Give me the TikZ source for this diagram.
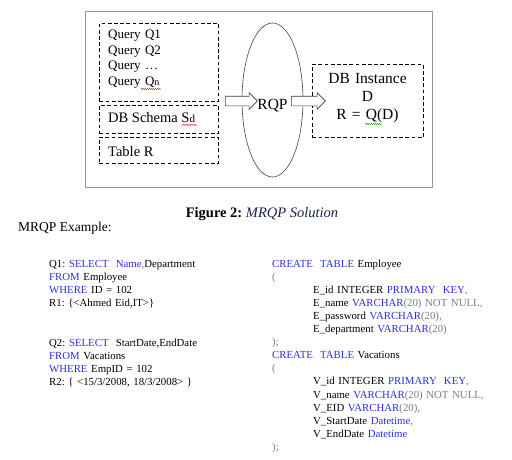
\documentclass[tikz,border=0pt]{standalone}
\usepackage{fontspec}
\setmainfont{Liberation Serif}
\usetikzlibrary{shapes.geometric,shapes.arrows,decorations.pathmorphing}
\definecolor{sqlblue}{RGB}{45,45,235}
\definecolor{sqlgray}{RGB}{125,125,125}
\definecolor{framegray}{RGB}{150,150,150}
\definecolor{captionnavy}{RGB}{25,35,75}
\newcommand{\sqlkw}[1]{\textcolor{sqlblue}{#1}}
\newcommand{\sqlgr}[1]{\textcolor{sqlgray}{#1}}
\newcommand{\sqlind}{\hspace*{41pt}}
\frenchspacing

\begin{document}
\begin{tikzpicture}[x=1pt,y=-1pt,
    dashbox/.style={draw, dash pattern=on 3.8pt off 2.4pt, line width=0.9pt, anchor=north west, inner sep=0pt},
    blockarrow/.style={single arrow, draw=black!75, fill=white, line width=0.6pt, minimum width=16pt,
      text height=4.5pt, text depth=4.5pt, single arrow head extend=3.5pt, single arrow head indent=0pt, inner sep=0pt},
    sqltext/.style={anchor=base west, inner sep=0pt, text width=230pt, align=left,
      font=\fontsize{10.8}{13.1}\selectfont}]
  \useasboundingbox (0,0) rectangle (512,459);

  % frame of the figure
  \draw[framegray, line width=0.8pt] (85,11) rectangle (432,187);

  % inputs
  \node[dashbox, minimum width=119pt, minimum height=78pt] (queries) at (99,23) {};
  \node[dashbox, minimum width=119pt, minimum height=28pt] (schema) at (99,105) {};
  \node[dashbox, minimum width=119pt, minimum height=26pt] (table) at (99,137) {};
  \node[anchor=base west, inner sep=0pt, text width=105pt, align=left,
    font=\fontsize{13}{15.5}\selectfont] (querylist) at (108,38.5)
    {Query Q1\\Query Q2\\Query \dots\\Query Q{\fontsize{10}{10}\selectfont n}};
  \node[anchor=base west, inner sep=0pt, font=\fontsize{14.5}{16}\selectfont] (schematext) at (108,122)
    {DB Schema S{\fontsize{11}{11}\selectfont d}};
  \node[anchor=base west, inner sep=0pt, font=\fontsize{14.5}{16}\selectfont] (tabletext) at (108,156) {Table R};

  % processor
  \node[ellipse, draw=black!75, line width=0.6pt, minimum width=61pt, minimum height=154pt, inner sep=0pt]
    (rqp) at (272.5,100) {};
  \node[inner sep=0pt, font=\fontsize{15.5}{17}\selectfont] (rqptext) at (272.5,105.5) {RQP};

  % output
  \node[dashbox, minimum width=111pt, minimum height=73pt] (instance) at (312,64) {};
  \node[anchor=base, inner sep=0pt, text width=105pt, align=center,
    font=\fontsize{15.5}{18}\selectfont] (instancetext) at (367.5,83.3)
    {DB Instance\\D\\R = Q(D)};

  \node[blockarrow, minimum height=32pt] (arrowin) at (239,101) {};
  \node[blockarrow, minimum height=34pt] (arrowout) at (306,101) {};

  % spelling marks
  \draw[red, line width=0.4pt, decorate, decoration={snake, amplitude=0.6pt, segment length=2pt}]
    (141,89) -- (160,89) (182,125.5) -- (197,125.5);
  \draw[green!60!black, line width=0.4pt, decorate, decoration={snake, amplitude=0.6pt, segment length=2pt}]
    (365,124) -- (382,124);

  % caption
  \node[inner sep=0pt, anchor=base, font=\fontsize{14.5}{16}\selectfont] (caption) at (262,217.5)
    {\textbf{Figure 2:} \textcolor{captionnavy}{\textit{MRQP Solution}}};
  \node[anchor=base west, inner sep=0pt, font=\fontsize{13.5}{15}\selectfont] (example) at (18,231.5)
    {MRQP Example:};

  % queries and results
  \node[sqltext] (queryone) at (49,267)
    {Q1: \sqlkw{SELECT\ \ Name}\sqlgr{,}Department\\
     \sqlkw{FROM} Employee\\
     \sqlkw{WHERE} ID = 102\\
     R1: \{<Ahmed Eid,IT>\}};
  \node[sqltext] (querytwo) at (49,346)
    {Q2: \sqlkw{SELECT}\ \ StartDate,EndDate\\
     \sqlkw{FROM} Vacations\\
     \sqlkw{WHERE} EmpID = 102\\
     R2: \{ <15/3/2008, 18/3/2008> \}};

  % schema
  \node[sqltext] (ddl) at (272,267)
    {\sqlkw{CREATE\ \ TABLE} Employee\\
     \sqlgr{(}\\
     \sqlind E\_id INTEGER \sqlkw{PRIMARY\ \ KEY}\sqlgr{,}\\
     \sqlind E\_name \sqlkw{VARCHAR}\sqlgr{(20) NOT NULL,}\\
     \sqlind E\_password \sqlkw{VARCHAR}\sqlgr{(20),}\\
     \sqlind E\_department \sqlkw{VARCHAR}\sqlgr{(20)}\\
     \sqlgr{);}\\
     \sqlkw{CREATE\ \ TABLE} Vacations\\
     \sqlgr{(}\\
     \sqlind V\_id INTEGER \sqlkw{PRIMARY\ \ KEY}\sqlgr{,}\\
     \sqlind V\_name \sqlkw{VARCHAR}\sqlgr{(20) NOT NULL,}\\
     \sqlind V\_EID \sqlkw{VARCHAR}\sqlgr{(20),}\\
     \sqlind V\_StartDate \sqlkw{Datetime}\sqlgr{,}\\
     \sqlind V\_EndDate \sqlkw{Datetime}\\
     \sqlgr{);}};
\end{tikzpicture}
\end{document}
